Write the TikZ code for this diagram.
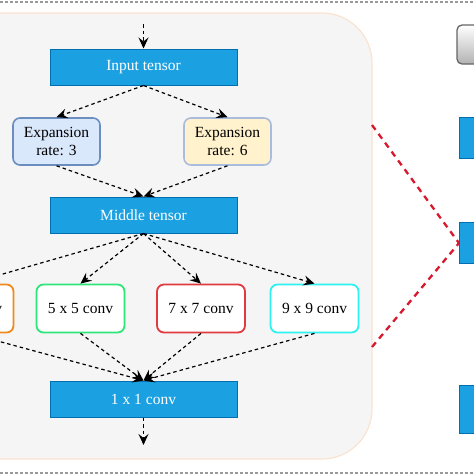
\documentclass[tikz,border=0pt]{standalone}
\usepackage{fontspec}
\setmainfont{Liberation Serif}
\usetikzlibrary{arrows.meta}
\definecolor{boxblue}{HTML}{1BA1E2}
\definecolor{boxblueline}{HTML}{006EAF}
\definecolor{panelfill}{HTML}{F5F5F5}
\definecolor{panelline}{HTML}{FAE3CF}
\definecolor{expblue}{HTML}{DAE8FC}
\definecolor{expblueline}{HTML}{6C8EBF}
\definecolor{expyellow}{HTML}{FFF2CC}
\definecolor{expyellowline}{HTML}{A9BCDD}
\definecolor{convorange}{HTML}{F08A1C}
\definecolor{convgreen}{HTML}{2EE67A}
\definecolor{convred}{HTML}{E03A3E}
\definecolor{convcyan}{HTML}{2EF2F2}
\definecolor{linkred}{HTML}{D7192E}
\begin{document}
\begin{tikzpicture}[x=1pt,y=-1pt,
    every node/.style={font=\fontsize{15.5}{18}\selectfont,inner sep=0pt,align=center},
    tensor/.style={draw=boxblueline,fill=boxblue,text=white,line width=1pt,minimum width=187pt,minimum height=36pt},
    rate/.style={rounded corners=7pt,line width=1.6pt,minimum width=87pt,minimum height=47pt},
    conv/.style={draw,fill=white,rounded corners=7pt,line width=1.8pt,minimum width=88pt,minimum height=48pt},
    flow/.style={dash pattern=on 3.5pt off 3pt,line width=1.2pt,-{Stealth[length=11pt,width=10pt,inset=4pt]}},
    link/.style={draw=linkred,dash pattern=on 6pt off 5pt,line width=2.3pt}]
  \useasboundingbox (0,0) rectangle (474,474);
  % frame lines
  \draw[gray!80,dash pattern=on 3pt off 2pt,line width=2pt] (0,1.5) -- (474,1.5);
  \draw[gray!80,dash pattern=on 3pt off 2pt,line width=2pt] (0,472.5) -- (474,472.5);
  % block panel
  \draw[fill=panelfill,draw=panelline,line width=1.2pt,rounded corners=50pt] (-60,13) rectangle (372,459);
  \node[tensor] (input) at (143.5,67) {Input tensor};
  \node[rate,draw=expblueline,fill=expblue] (exp3) at (56.5,141.5) {Expansion\\rate: 3};
  \node[rate,draw=expyellowline,fill=expyellow] (exp6) at (227.5,141.5) {Expansion\\rate: 6};
  \node[tensor] (middle) at (143.5,215) {Middle tensor};
  \node[conv,draw=convorange] (conv3) at (-30.5,308.5) {3 x 3 conv};
  \node[conv,draw=convgreen] (conv5) at (80.5,308.5) {5 x 5 conv};
  \node[conv,draw=convred] (conv7) at (201,308.5) {7 x 7 conv};
  \node[conv,draw=convcyan] (conv9) at (314.5,308.5) {9 x 9 conv};
  \node[tensor] (conv1) at (143.5,399) {1 x 1 conv};
  \coordinate (in) at (143.5,24);
  \coordinate (out) at (143.5,445);
  \draw[flow] (in) -- (input);
  \draw[flow] (input.south) -- (exp3.north);
  \draw[flow] (input.south) -- (exp6.north);
  \draw[flow] (exp3.south) -- (middle.north);
  \draw[flow] (exp6.south) -- (middle.north);
  \foreach \c in {conv3,conv5,conv7,conv9} {
    \draw[flow] (middle.south) -- (\c.north);
    \draw[flow] (\c.south) -- (conv1.north);
  }
  \draw[flow] (conv1) -- (out);
  % network on the right
  \draw[draw=black!60,line width=1.3pt,rounded corners=5pt,top color=white,bottom color=black!30] (457,25) rectangle (500,64);
  \node[draw=boxblueline,fill=boxblue,line width=1.2pt,anchor=north west,minimum width=40pt,minimum height=41pt] (stage1) at (459,117) {};
  \node[draw=boxblueline,fill=boxblue,line width=1.2pt,anchor=north west,minimum width=40pt,minimum height=41pt] (stage2) at (459,222) {};
  \node[draw=boxblueline,fill=boxblue,line width=1.2pt,anchor=north west,minimum width=40pt,minimum height=48pt] (stage3) at (459,385) {};
  \coordinate (edgetop) at (372,125);
  \coordinate (edgebot) at (372,347);
  \draw[link] (edgetop) -- (stage2.west);
  \draw[link] (edgebot) -- (stage2.west);
\end{tikzpicture}
\end{document}
